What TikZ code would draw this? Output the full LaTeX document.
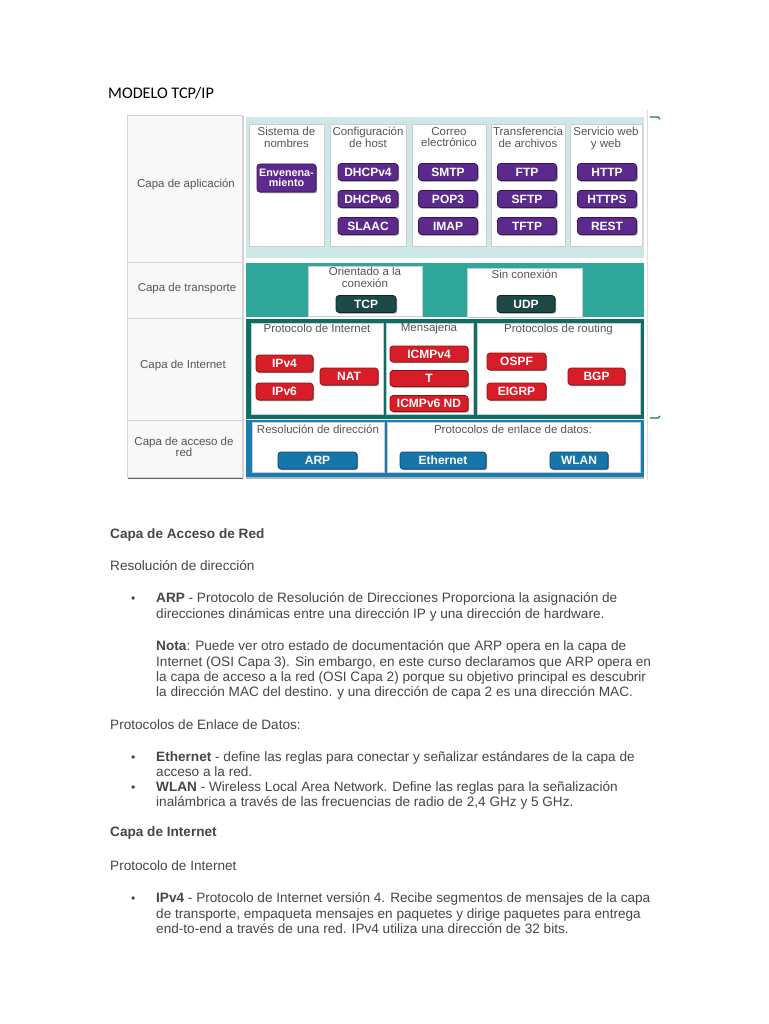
\documentclass[tikz,border=0pt]{standalone}
\usepackage{fontspec}
\setmainfont{Liberation Sans}
\newfontfamily\calib{Carlito}
\usetikzlibrary{shadows}
\definecolor{appbg}{RGB}{205,232,230}
\definecolor{trbg}{RGB}{46,166,153}
\definecolor{inbg}{RGB}{14,110,100}
\definecolor{acbg}{RGB}{24,125,178}
\definecolor{pur}{RGB}{92,42,140}
\definecolor{purd}{RGB}{55,22,88}
\definecolor{rd}{RGB}{215,30,40}
\definecolor{rdd}{RGB}{140,18,22}
\definecolor{dtl}{RGB}{28,72,70}
\definecolor{dtld}{RGB}{15,40,38}
\definecolor{bl}{RGB}{22,118,172}
\definecolor{bld}{RGB}{12,68,105}
\definecolor{labgray}{RGB}{85,85,85}
\definecolor{txtgray}{RGB}{70,70,70}
\definecolor{cellfill}{RGB}{248,248,248}
\definecolor{celldraw}{RGB}{212,212,212}
\definecolor{tick}{RGB}{30,120,60}
\newcommand\tline[3]{\node[txt] (#1) at (#2) {#3};}
\newcommand\bul[2]{\node[bulletmark] (#1) at (#2) {•};}
\begin{document}
\begin{tikzpicture}[x=1pt,y=-1pt,
  cell/.style={draw=celldraw, fill=cellfill, anchor=north west, inner sep=0, line width=0.6pt},
  bg/.style={anchor=north west, inner sep=0, draw=none},
  wbox/.style={draw=gray!40, fill=white, anchor=north west, inner sep=0, line width=0.5pt,
    drop shadow={shadow xshift=1pt, shadow yshift=-1pt, fill=black, opacity=0.35}},
  lbl/.style={text=labgray, font=\fontsize{11.5}{11.5}\selectfont, align=center, inner sep=0},
  btn/.style={rounded corners=3pt, inner sep=0, text=white, font=\fontsize{12}{12}\selectfont\bfseries,
    minimum height=17pt, line width=0.7pt,
    drop shadow={shadow xshift=1.2pt, shadow yshift=-1.2pt, fill=black, opacity=0.45}},
  pb/.style={btn, fill=pur, draw=purd, minimum width=59pt},
  rb/.style={btn, fill=rd, draw=rdd, minimum width=57pt},
  tb/.style={btn, fill=dtl, draw=dtld, minimum width=59pt},
  bb/.style={btn, fill=bl, draw=bld, minimum width=58pt},
  txt/.style={anchor=base west, inner sep=0, text=txtgray, font=\fontsize{13.6}{15}\selectfont},
  bulletmark/.style={anchor=base west, inner sep=0, text=txtgray, font=\fontsize{12}{12}\selectfont}
]
\useasboundingbox[fill=white] (0,0) rectangle (768,1024);

% title
\node[anchor=base west, inner sep=0, font=\calib\fontsize{16.2}{16}\selectfont] (title) at (108,98.5) {MODELO TCP/IP};

% left column
\draw[gray!35, line width=1.2pt] (243.5,116) -- (243.5,478);
\node[cell, minimum width=115pt, minimum height=147pt] (lc1) at (127,115) {};
\node[cell, minimum width=115pt, minimum height=56pt] (lc2) at (127,262) {};
\node[cell, minimum width=115pt, minimum height=102pt] (lc3) at (127,318) {};
\node[cell, minimum width=115pt, minimum height=57pt] (lc4) at (127,420) {};
\draw[gray!75!black, line width=1.5pt] (128,478.5) -- (243,478.5);
\node[lbl] (l1) at (186,184) {Capa de aplicación};
\node[lbl] (l2) at (187,289) {Capa de transporte};
\node[lbl] (l3) at (183,366) {Capa de Internet};
\node[lbl] (l4) at (184,447) {Capa de acceso de\\red};

% right backgrounds
\draw[gray!25, line width=1pt] (647.5,110) -- (647.5,480);
\node[bg, fill=appbg, minimum width=398pt, minimum height=141pt] (apb) at (246,117) {};
\node[bg, fill=trbg, minimum width=398pt, minimum height=54pt] (trb) at (246,263) {};
\node[bg, fill=inbg, minimum width=398pt, minimum height=100pt] (inb) at (246,319) {};
\node[bg, fill=acbg, minimum width=398pt, minimum height=57pt] (acb) at (246,420) {};
\draw[gray!60, line width=1.2pt] (246,478) -- (644,478);

% green ticks
\draw[tick, line width=1.1pt] (650,117) -- (658,117) -- (660,119);
\draw[tick, line width=1.1pt] (650,418) -- (658,418) -- (660,416);

% application boxes
\node[wbox, minimum width=75pt, minimum height=122pt] (b1) at (249,124) {};
\node[wbox, minimum width=76pt, minimum height=122pt] (b2) at (330,124) {};
\node[wbox, minimum width=74pt, minimum height=122pt] (b3) at (412,124) {};
\node[wbox, minimum width=74pt, minimum height=122pt] (b4) at (491,124) {};
\node[wbox, minimum width=72pt, minimum height=122pt] (b5) at (570,124) {};
\node[lbl, anchor=north] (t1) at (286.5,127) {Sistema de\\nombres};
\node[lbl, anchor=north] (t2) at (368,127) {Configuración\\de host};
\node[lbl, anchor=north] (t3) at (449,127) {Correo\\electrónico};
\node[lbl, anchor=north] (t4) at (528,127) {Transferencia\\de archivos};
\node[lbl, anchor=north] (t5) at (606,127) {Servicio web\\y web};

\node[pb, minimum height=28pt, align=center, font=\fontsize{10.8}{10.5}\selectfont\bfseries] (env) at (286.5,178) {Envenena-\\miento};
\node[pb, minimum width=60pt] (dh4) at (368,172) {DHCPv4};
\node[pb, minimum width=60pt] (dh6) at (368,199) {DHCPv6};
\node[pb, minimum width=60pt] (slaac) at (368,226) {SLAAC};
\node[pb] (smtp) at (448,172) {SMTP};
\node[pb] (pop) at (448,199) {POP3};
\node[pb] (imap) at (448,226) {IMAP};
\node[pb] (ftp) at (527,172) {FTP};
\node[pb] (sftp) at (527,199) {SFTP};
\node[pb] (tftp) at (527,226) {TFTP};
\node[pb] (http) at (607,172) {HTTP};
\node[pb] (https) at (607,199) {HTTPS};
\node[pb] (rest) at (607,226) {REST};

% transport
\node[wbox, minimum width=114pt, minimum height=50pt] (ori) at (308,266) {};
\node[wbox, minimum width=115pt, minimum height=49pt] (sin) at (467,268) {};
\node[lbl, anchor=north] (t6) at (365,267) {Orientado a la\\conexión};
\node[lbl, anchor=north] (t7) at (524.5,270) {Sin conexión};
\node[tb, minimum width=60pt] (tcp) at (366,304) {TCP};
\node[tb, minimum width=58pt] (udp) at (526,304) {UDP};

% internet
\node[wbox, minimum width=132pt, minimum height=91pt] (pi) at (251,323) {};
\node[wbox, minimum width=87pt, minimum height=91pt] (msg) at (386,323) {};
\node[wbox, minimum width=163pt, minimum height=91pt] (rt) at (477,323) {};
\node[lbl, anchor=north] (t8) at (317,324) {Protocolo de Internet};
\node[lbl, anchor=north] (t9) at (429,323) {Mensajeria};
\node[lbl, anchor=north] (t10) at (558.5,324) {Protocolos de routing};
\node[rb] (ipv4) at (284.5,363.5) {IPv4};
\node[rb] (ipv6) at (284.5,391.5) {IPv6};
\node[rb, minimum width=58pt] (nat) at (349,376.5) {NAT};
\node[rb, minimum width=78pt, minimum height=16pt] (icmp4) at (429,354) {ICMPv4};
\node[rb, minimum width=78pt, minimum height=16pt] (tt) at (429,378.5) {T};
\node[rb, minimum width=78pt, minimum height=16pt] (icmp6) at (429,403.5) {ICMPv6 ND};
\node[rb, minimum width=59pt] (ospf) at (516.5,361.5) {OSPF};
\node[rb, minimum width=59pt] (eigrp) at (516.5,391.5) {EIGRP};
\node[rb] (bgp) at (596.5,376.5) {BGP};

% network access
\node[wbox, minimum width=132pt, minimum height=50pt] (res) at (252,422) {};
\node[wbox, minimum width=253pt, minimum height=50pt] (enl) at (387,422) {};
\node[lbl, anchor=north] (t11) at (318,425) {Resolución de dirección};
\node[lbl, anchor=north] (t12) at (513,425) {Protocolos de enlace de datos:};
\node[bb, minimum width=79pt] (arp) at (317.5,460.5) {ARP};
\node[bb, minimum width=86pt] (eth) at (443,460.5) {Ethernet};
\node[bb] (wlan) at (579,460.5) {WLAN};

% body text
\tline{h1}{110,538}{\textbf{Capa de Acceso de Red}}
\tline{p1}{110,570}{Resolución de dirección}
\bul{u1}{131,602}
\tline{a1}{156,602}{\textbf{ARP} - Protocolo de Resolución de Direcciones Proporciona la asignación de}
\tline{a2}{156,618}{direcciones dinámicas entre una dirección IP y una dirección de hardware.}
\tline{n1}{156,650}{\textbf{Nota}: Puede ver otro estado de documentación que ARP opera en la capa de}
\tline{n2}{156,666}{Internet (OSI Capa 3). Sin embargo, en este curso declaramos que ARP opera en}
\tline{n3}{156,681}{la capa de acceso a la red (OSI Capa 2) porque su objetivo principal es descubrir}
\tline{n4}{156,696}{la dirección MAC del destino. y una dirección de capa 2 es una dirección MAC.}
\tline{p2}{110,729}{Protocolos de Enlace de Datos:}
\bul{u2}{131,761}
\tline{e1}{156,761}{\textbf{Ethernet} - define las reglas para conectar y señalizar estándares de la capa de}
\tline{e2}{156,776}{acceso a la red.}
\bul{u3}{131,791}
\tline{w1}{156,791}{\textbf{WLAN} - Wireless Local Area Network. Define las reglas para la señalización}
\tline{w2}{156,806}{inalámbrica a través de las frecuencias de radio de 2,4 GHz y 5 GHz.}
\tline{h2}{110,836}{\textbf{Capa de Internet}}
\tline{p3}{110,870}{Protocolo de Internet}
\bul{u4}{131,902}
\tline{i1}{156,902}{\textbf{IPv4} - Protocolo de Internet versión 4. Recibe segmentos de mensajes de la capa}
\tline{i2}{156,918}{de transporte, empaqueta mensajes en paquetes y dirige paquetes para entrega}
\tline{i3}{156,933}{end-to-end a través de una red. IPv4 utiliza una dirección de 32 bits.}
\end{tikzpicture}
\end{document}
